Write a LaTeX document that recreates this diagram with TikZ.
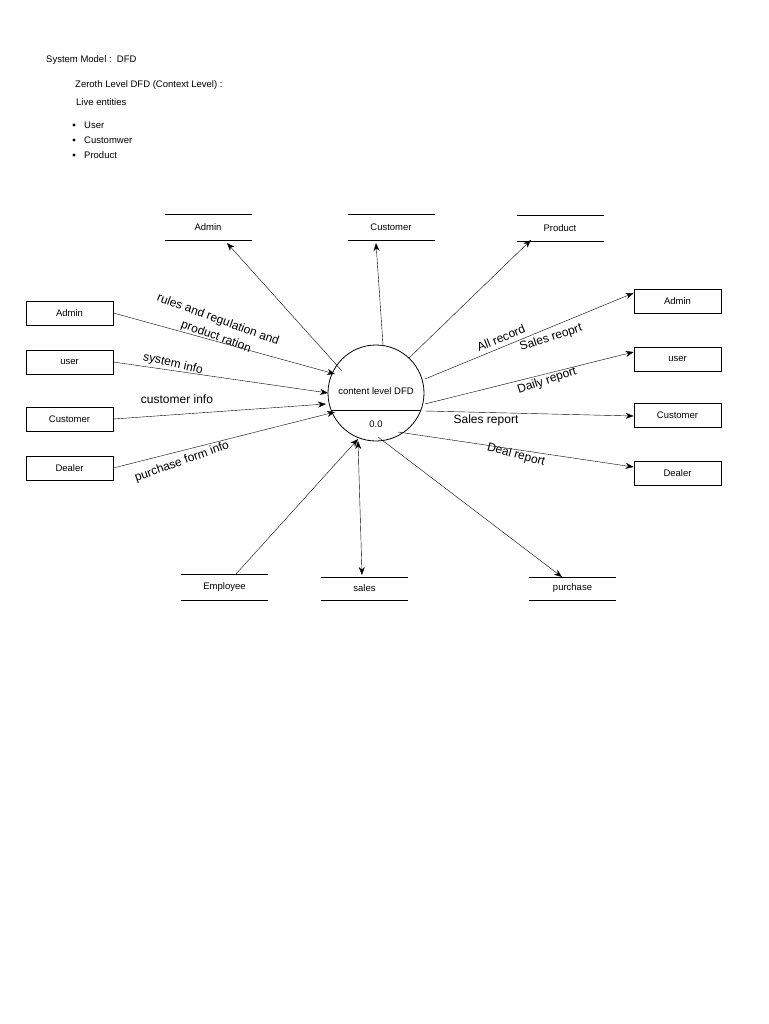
\documentclass[tikz,border=0pt]{standalone}
\usepackage{fontspec}
\setmainfont{Liberation Sans}
\usetikzlibrary{arrows.meta}
\begin{document}
\begin{tikzpicture}[x=1pt,y=-1pt,
  ent/.style={draw,thick,minimum width=87pt,minimum height=24pt,inner sep=0pt,font=\fontsize{9.5}{11}\selectfont},
  txt/.style={font=\fontsize{9.5}{11}\selectfont,inner sep=0pt},
  lbl/.style={font=\fontsize{12}{13}\selectfont,inner sep=0pt},
  flow/.style={-{Stealth[length=8pt,width=6pt]}},
  store/.style={txt}]
\useasboundingbox (0,0) rectangle (768,1024);
\node[txt,anchor=west] (h1) at (46,60) {System Model :\ \ DFD};
\node[txt,anchor=west] (h2) at (75,85) {Zeroth Level DFD (Context Level) :};
\node[txt,anchor=west] (h3) at (76,102) {Live entities};
\foreach \t/\y [count=\i] in {User/125,Customwer/140,Product/155}{
  \fill (74,\y) circle (1.6pt);
  \node[txt,anchor=west] (b\i) at (84,\y) {\t};}
% process
\node[draw,thick,circle,minimum size=96pt,inner sep=0pt] (p) at (376,393) {};
\draw[thick] (331,410) -- (421,410);
\node[txt] (pt) at (376,391) {content level DFD};
\node[txt] (pn) at (376,424) {0.0};
% left entities
\node[ent] (la) at (69.5,313) {Admin};
\node[ent] (lu) at (69.5,362) {user};
\node[ent] (lc) at (69.5,419) {Customer};
\node[ent] (ld) at (69.5,468) {Dealer};
% right entities
\node[ent] (ra) at (677.5,301.5) {Admin};
\node[ent] (ru) at (677.5,359) {user};
\node[ent] (rc) at (677.5,415.5) {Customer};
\node[ent] (rd) at (677.5,473) {Dealer};
% stores
\foreach \n/\t/\x/\ya/\yb in {sa/Admin/208/214/240,sc/Customer/391/214/240,sp/Product/560/215/241,se/Employee/224.5/574/600,ss/sales/364.5/577/600,su/purchase/572.5/577/600}{
  \draw[thick] (\x-43.5,\ya) -- (\x+43.5,\ya);
  \draw[thick] (\x-43.5,\yb) -- (\x+43.5,\yb);
  \node[store] (\n) at (\x,{(\ya+\yb)/2}) {\t};
  \coordinate (\n t) at (\x,\ya);
}
\coordinate (sab) at (227,243);
\coordinate (scb) at (376,243);
\coordinate (spb) at (531,240);
% inflows
\draw[flow] (la.east) -- (335,374) coordinate (i1);
\draw[flow] (lu.east) -- (328,393);
\draw[flow] (lc.east) -- (326,404);
\draw[flow] (ld.east) -- (335,412);
% to top stores
\draw[flow] (342,371) -- (sab);
\draw[flow] (383,345) -- (scb);
\draw[flow] (409,358) -- (spb);
% right
\draw[flow] (425,379) -- (ra.west|-0,293);
\draw[flow] (425,404) -- (ru.west|-0,352);
\draw[flow] (425,411) -- (rc.west|-0,416);
\draw[flow] (398,432) -- (rd.west|-0,467);
% bottom
\draw[flow] (236,574) -- (358,439);
\draw[{Stealth[length=8pt,width=6pt]}-{Stealth[length=8pt,width=6pt]}] (358,441) -- (362,575);
\draw[flow] (378,437) -- (562,577);
% labels
\node[lbl,rotate=-20] (l1) at (218,320) {rules and regulation and};
\node[lbl,rotate=-20] (l1b) at (216,337) {product ration};
\node[lbl,rotate=-13] (l2) at (173,364) {system info};
\node[lbl] (l3) at (177,399) {customer info};
\node[lbl,rotate=20] (l4) at (182,462) {purchase form info};
\node[lbl,rotate=22] (l5) at (501,338) {All record};
\node[lbl,rotate=18] (l6) at (551,338) {Sales reoprt};
\node[lbl,rotate=18] (l7) at (547,381) {Daily report};
\node[lbl] (l8) at (486,420) {Sales report};
\node[lbl,rotate=-15] (l9) at (516,455) {Deal report};
\end{tikzpicture}
\end{document}
